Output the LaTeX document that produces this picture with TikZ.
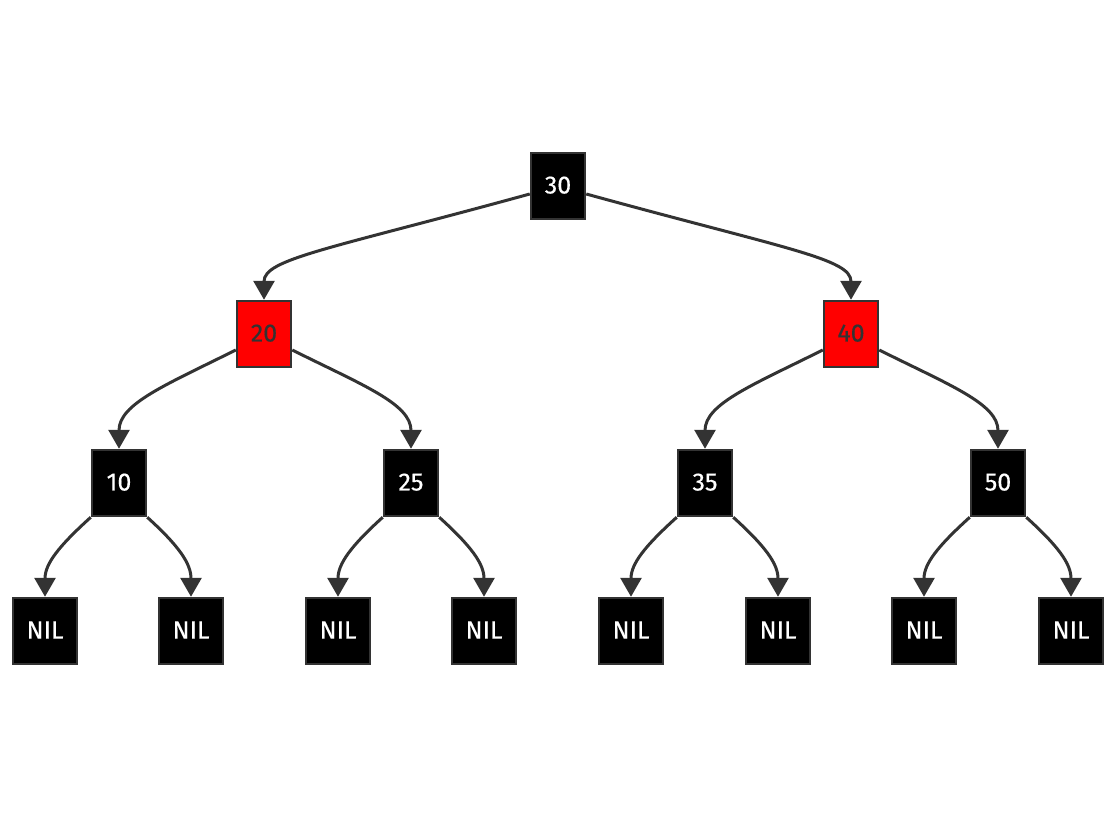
\documentclass[tikz,border=0pt]{standalone}
\usepackage{fontspec}
\setmainfont{Fira Sans}
\newfontfamily\lblfont{Fira Sans}[FakeBold=0.4]
\usetikzlibrary{arrows.meta}
\definecolor{edgegray}{HTML}{333333}
\newcommand{\lbl}[1]{\raisebox{2pt}{#1}}
\begin{document}
\begin{tikzpicture}[x=1pt,y=-1pt,
  blk/.style={draw=edgegray, line width=2.5pt, fill=black, text=white, minimum width=54pt, minimum height=66pt, inner sep=0pt, font=\lblfont\fontsize{25}{29}\selectfont},
  rd/.style={blk, fill=red, text=edgegray},
  nilbox/.style={blk, minimum width=64pt},
  edge/.style={draw=edgegray, line width=3pt, -{Triangle[width=21pt,length=19pt]}}]
\useasboundingbox (0,0) rectangle (1116,819);
\node[blk] (n30) at (558,186) {\lbl{30}};
\node[rd] (n20) at (264,334) {\lbl{20}};
\node[rd] (n40) at (851,334) {\lbl{40}};
\node[blk] (n10) at (119,483) {\lbl{10}};
\node[blk] (n25) at (411,483) {\lbl{25}};
\node[blk] (n35) at (705,483) {\lbl{35}};
\node[blk] (n50) at (998,483) {\lbl{50}};
\node[nilbox] (a1) at (45,631) {\lbl{NIL}};
\node[nilbox] (a2) at (191,631) {\lbl{NIL}};
\node[nilbox] (a3) at (338,631) {\lbl{NIL}};
\node[nilbox] (a4) at (484,631) {\lbl{NIL}};
\node[nilbox] (a5) at (631,631) {\lbl{NIL}};
\node[nilbox] (a6) at (778,631) {\lbl{NIL}};
\node[nilbox] (a7) at (924,631) {\lbl{NIL}};
\node[nilbox] (a8) at (1071,631) {\lbl{NIL}};
% level 1
\draw[edge] ([yshift=-8pt]n30.west) .. controls +(-200,55) and +(0,-41) .. (n20.north);
\draw[edge] ([yshift=-8pt]n30.east) .. controls +(200,55) and +(0,-41) .. (n40.north);
% level 2
\draw[edge] ([yshift=-16pt]n20.west) .. controls +(-70,35) and +(0,-45) .. (n10.north);
\draw[edge] ([yshift=-16pt]n20.east) .. controls +(70,35) and +(0,-45) .. (n25.north);
\draw[edge] ([yshift=-16pt]n40.west) .. controls +(-70,35) and +(0,-45) .. (n35.north);
\draw[edge] ([yshift=-16pt]n40.east) .. controls +(70,35) and +(0,-45) .. (n50.north);
% level 3
\draw[edge] (n10.south west) .. controls +(-32,29) and +(0,-33) .. (a1.north);
\draw[edge] (n10.south east) .. controls +(32,29) and +(0,-33) .. (a2.north);
\draw[edge] (n25.south west) .. controls +(-32,29) and +(0,-33) .. (a3.north);
\draw[edge] (n25.south east) .. controls +(32,29) and +(0,-33) .. (a4.north);
\draw[edge] (n35.south west) .. controls +(-32,29) and +(0,-33) .. (a5.north);
\draw[edge] (n35.south east) .. controls +(32,29) and +(0,-33) .. (a6.north);
\draw[edge] (n50.south west) .. controls +(-32,29) and +(0,-33) .. (a7.north);
\draw[edge] (n50.south east) .. controls +(32,29) and +(0,-33) .. (a8.north);
\end{tikzpicture}
\end{document}
